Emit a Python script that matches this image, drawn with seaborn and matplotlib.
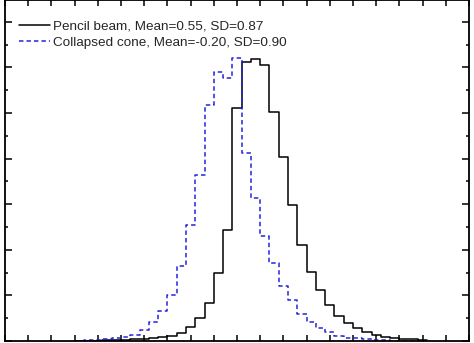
import numpy as np
import pandas as pd
import matplotlib
matplotlib.use("Agg")
import matplotlib.pyplot as plt
from matplotlib.ticker import MultipleLocator, NullFormatter
import seaborn as sns

# Histogram bin centres (dose difference), bin width 0.2
bin_width = 0.2
centers = np.round(np.arange(-3.4, 4.01, bin_width), 1)

# Relative frequency (%) per bin, pencil beam algorithm
pencil_beam = [
    0.00, 0.00, 0.02, 0.03, 0.04, 0.05, 0.07, 0.10, 0.12, 0.16,
    0.22, 0.37, 0.60, 1.02, 1.67, 2.98, 4.87, 10.22, 12.24, 12.35,
    12.13, 10.06, 8.08, 5.96, 4.23, 3.01, 2.24, 1.57, 1.11, 0.78,
    0.56, 0.41, 0.28, 0.16, 0.11, 0.09, 0.07, 0.04,
]

# Relative frequency (%) per bin, collapsed cone algorithm
collapsed_cone = [
    0.02, 0.03, 0.04, 0.07, 0.12, 0.16, 0.26, 0.50, 0.85, 1.32,
    2.02, 3.29, 5.11, 7.28, 10.35, 11.80, 11.56, 12.40, 8.23, 6.26,
    4.61, 3.42, 2.43, 1.79, 1.20, 0.85, 0.59, 0.39, 0.21, 0.13,
    0.11, 0.07, 0.06, 0.04, 0.00, 0.00, 0.00, 0.00,
]

labels = [
    "Pencil beam, Mean=0.55, SD=0.87",
    "Collapsed cone, Mean=-0.20, SD=0.90",
]

df = pd.DataFrame({
    "dose_diff": np.concatenate([centers, centers]),
    "freq": np.concatenate([pencil_beam, collapsed_cone]),
    "algorithm": [labels[0]] * len(centers) + [labels[1]] * len(centers),
})

lo = float(centers[0] - bin_width / 2)
hi = float(centers[-1] + bin_width / 2)

sns.set_theme(style="ticks")
plt.rcParams["font.family"] = ["Liberation Sans", "DejaVu Sans"]

fig = plt.figure(figsize=(4.74, 3.43), dpi=100)
ax = fig.add_axes([5 / 474, 2 / 343, 464 / 474, 341 / 343])

styles = {
    labels[0]: dict(color="black", linestyle="-"),
    labels[1]: dict(color="#2424d8", linestyle=(0, (2.9, 2.0))),
}
for name in labels:
    sub = df[df["algorithm"] == name]
    sns.histplot(
        x=sub["dose_diff"].to_numpy(), weights=sub["freq"].to_numpy(),
        binwidth=bin_width, binrange=(lo, hi),
        element="step", fill=False, stat="count", ax=ax,
        linewidth=1.1, label=name, **styles[name],
    )

ax.set_xlim(-5, 5)
ax.set_ylim(0, 14.96)
ax.set_xlabel("")
ax.set_ylabel("")

ax.xaxis.set_major_locator(MultipleLocator(0.5))
ax.yaxis.set_major_locator(MultipleLocator(2))
ax.yaxis.set_minor_locator(MultipleLocator(1))
ax.xaxis.set_major_formatter(NullFormatter())
ax.yaxis.set_major_formatter(NullFormatter())
ax.tick_params(axis="x", which="major", direction="in", length=4.3,
               width=1.1, top=True, bottom=True, color="black")
ax.tick_params(axis="y", which="major", direction="in", length=5.0,
               width=1.1, left=True, right=True, color="black")
ax.tick_params(axis="y", which="minor", direction="in", length=2.5,
               width=1.1, left=True, right=True, color="black")
for side in ["left", "right", "top", "bottom"]:
    ax.spines[side].set_visible(True)
    ax.spines[side].set_linewidth(1.3)
    ax.spines[side].set_color("black")

ax.legend(
    loc="upper left", bbox_to_anchor=(0.030, 0.940), frameon=False,
    fontsize=9.7, handlelength=2.3, handletextpad=0.25,
    borderpad=0, borderaxespad=0, labelspacing=0.25,
)

fig.savefig("out.png", dpi=100)
